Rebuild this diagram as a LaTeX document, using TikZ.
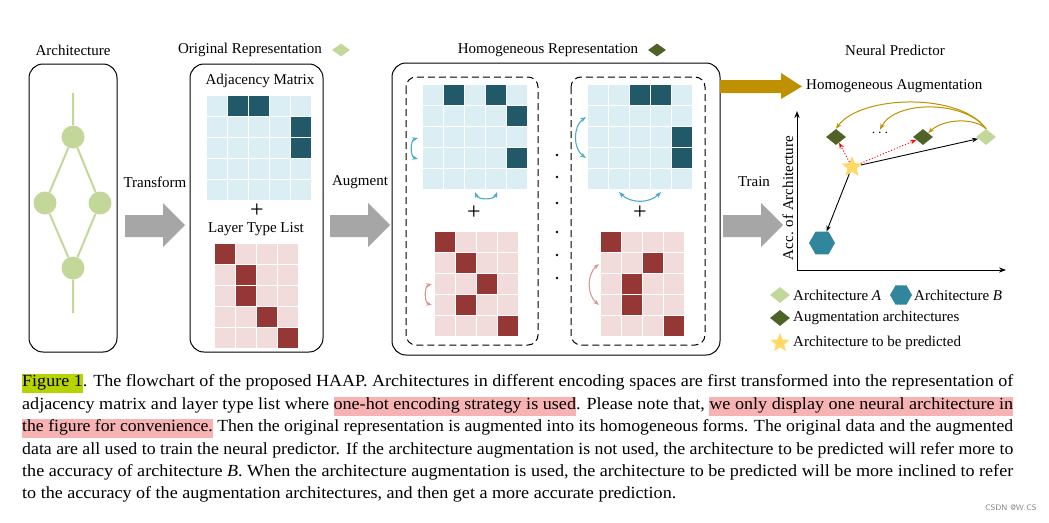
\documentclass[tikz,border=0pt]{standalone}
\usepackage{fontspec}
\setmainfont{Liberation Serif}
\usepackage{graphicx}
\usetikzlibrary{shapes.geometric,arrows.meta}
\definecolor{lblue}{HTML}{DAEEF3}
\definecolor{dteal}{HTML}{215968}
\definecolor{lpink}{HTML}{F2DCDB}
\definecolor{dred}{HTML}{953735}
\definecolor{lgreen}{HTML}{C4D79B}
\definecolor{dgreen}{HTML}{4F6228}
\definecolor{hexb}{HTML}{31859C}
\definecolor{stary}{HTML}{FFD966}
\definecolor{garr}{HTML}{A6A6A6}
\definecolor{gold}{HTML}{BF9000}
\definecolor{arrc}{HTML}{4BACC6}
\definecolor{arrp}{HTML}{DA9694}
\definecolor{hlp}{HTML}{F7B3B3}
\definecolor{hlg}{HTML}{B8D400}
\newcommand\gridmat[6]{% x, y, ncols, nrows, light, dark-cells (r/c, 0-based), dark colour in \dk
  \foreach \rr in {1,...,#4}{\foreach \cc in {1,...,#3}{%
    \fill[#5,draw=white,line width=0.6pt] ({#1+(\cc-1)*21},{#2+(\rr-1)*21}) rectangle ++(21,21);}}
  \foreach \rr/\cc in {#6}{\fill[\dk,draw=white,line width=0.6pt] ({#1+\cc*21},{#2+\rr*21}) rectangle ++(21,21);}}
\newcommand\hlb[2]{{\setlength{\fboxsep}{0pt}\colorbox{#1}{\strut #2}}}
\begin{document}
\begin{tikzpicture}[x=1pt,y=-1pt,
  lbl/.style={font=\fontsize{15}{17}\selectfont,inner sep=0pt},
  box/.style={draw,line width=1pt,rounded corners=14pt},
  dbox/.style={draw,line width=1pt,dash pattern=on 7pt off 4pt,rounded corners=10pt},
  garrow/.style={fill=garr},
  gnode/.style={circle,fill=lgreen,minimum size=23pt,inner sep=0pt},
  gline/.style={lgreen,line width=2pt},
  ldia/.style={diamond,fill=lgreen,minimum width=20pt,minimum height=16pt,inner sep=0pt},
  ddia/.style={diamond,fill=dgreen,minimum width=20pt,minimum height=16pt,inner sep=0pt},
  hexn/.style={regular polygon,regular polygon sides=6,fill=hexb,minimum size=26pt,inner sep=0pt},
  starn/.style={star,star points=5,star point ratio=2.3,fill=stary,minimum size=22pt,inner sep=0pt},
  swapc/.style={<->,>={Stealth[length=6pt]},arrc,line width=1.1pt},
  swapp/.style={<->,>={Stealth[length=6pt]},arrp,line width=1.1pt},
  plusn/.style={font=\fontsize{24}{24}\selectfont,inner sep=0pt}
]
\useasboundingbox (0,0) rectangle (1049,522);
% Architecture
\node[lbl] (tarch) at (73,50) {Architecture};
\draw[box] (29,64) rectangle (117,352);
\node[gnode] (n1) at (73,137) {};
\node[gnode] (n2) at (45,203) {};
\node[gnode] (n3) at (100,203) {};
\node[gnode] (n4) at (73,268) {};
\coordinate (top) at (73,93); \coordinate (bot) at (73,313);
\draw[gline] (top)--(n1) (n1)--(n2) (n1)--(n3) (n2)--(n4) (n3)--(n4) (n4)--(bot);
% gray arrows
\foreach \x/\nm in {125/a1,330/a2,723/a3}{
  \fill[garrow] (\x,215) -- (\x+38,215) -- (\x+38,203) -- (\x+60,225) -- (\x+38,247) -- (\x+38,237) -- (\x,237) -- cycle;}
\node[lbl] (ttr) at (155,182) {Transform};
\node[lbl] (tau) at (360,182) {Augment};
\node[lbl] (ttn) at (754,182) {Train};
% Original representation
\node[lbl] (tor) at (250,50) {Original Representation};
\node[ldia,minimum width=18pt,minimum height=13pt] (dor) at (341,50) {};
\draw[box] (190,64) rectangle (323,352);
\node[lbl] (tadj) at (260,81) {Adjacency Matrix};
\def\dk{dteal}\gridmat{206}{95}{5}{5}{lblue}{0/1,0/2,1/4,2/4}
\node[plusn] (p1) at (257,211) {+};
\node[lbl] (tlt) at (256,229) {Layer Type List};
\def\dk{dred}\gridmat{214}{243}{4}{5}{lpink}{0/0,1/1,2/1,3/2,4/3}
% Homogeneous representation
\node[lbl] (thr) at (548,50) {Homogeneous Representation};
\node[ddia,minimum width=18pt,minimum height=13pt] (dhr) at (657,50) {};
\draw[box] (392,63) rectangle (720,355);
\draw[dbox] (406,77) rectangle (538,345);
\draw[dbox] (571,77) rectangle (705,345);
\def\dk{dteal}\gridmat{422}{84}{5}{5}{lblue}{0/1,0/3,1/4,3/4}
\def\dk{dred}\gridmat{434}{231}{4}{5}{lpink}{0/0,1/1,2/2,3/1,4/3}
\def\dk{dteal}\gridmat{587}{84}{5}{5}{lblue}{0/2,0/3,2/4,3/4}
\def\dk{dred}\gridmat{600}{231}{4}{5}{lpink}{0/0,1/2,2/1,3/1,4/3}
\node[plusn] (p2) at (474,213) {+};
\node[plusn] (p3) at (640,213) {+};
\coordinate (c1a) at (418,138); \coordinate (c1b) at (418,159);
\draw[swapc] (c1a) to[bend right=75] (c1b);
\coordinate (c2a) at (475,192); \coordinate (c2b) at (497,192);
\draw[swapc] (c2a) to[bend right=70] (c2b);
\coordinate (c3a) at (586,117); \coordinate (c3b) at (586,158);
\draw[swapc] (c3a) to[bend right=55] (c3b);
\coordinate (c4a) at (619,192); \coordinate (c4b) at (661,192);
\draw[swapc] (c4a) to[bend right=45] (c4b);
\coordinate (p1a) at (432,284); \coordinate (p1b) at (432,305);
\draw[swapp] (p1a) to[bend right=75] (p1b);
\coordinate (p2a) at (599,264); \coordinate (p2b) at (599,305);
\draw[swapp] (p2a) to[bend right=50] (p2b);
\foreach \yy in {155,177,203,232,255,278}{\fill (557,\yy) circle (1.4pt);}
% Neural predictor
\node[lbl] (tnp) at (895,50) {Neural Predictor};
\fill[gold] (720,80) -- (781,80) -- (781,73) -- (802,86.5) -- (781,99) -- (781,93) -- (720,93) -- cycle;
\node[lbl,anchor=west] (tha) at (806,86) {Homogeneous Augmentation};
\coordinate (org) at (797,270);
\coordinate (yend) at (797,111);
\coordinate (xend) at (1006,270);
\draw[line width=1pt,-{Stealth[length=7pt]}] (org) -- (yend);
\draw[line width=1pt,-{Stealth[length=7pt]}] (org) -- (xend);
\node[lbl,rotate=90] (tacc) at (788,198) {Acc. of Architecture};
\node[ddia] (d1) at (836,137) {};
\node[ddia] (d2) at (923,137) {};
\node[ldia] (la) at (986,137) {};
\node[lbl] (dots) at (880,133) {$\cdots$};
\node[starn] (st) at (852,167) {};
\node[hexn] (hb) at (822,243) {};
\draw[line width=0.9pt,-{Stealth[length=6pt]}] (st) -- (la);
\draw[line width=0.9pt,-{Stealth[length=6pt]}] (st) -- (hb);
\draw[red,line width=1pt,dotted,-{Stealth[length=6pt]}] (st) -- (d1);
\draw[red,line width=1pt,dotted,-{Stealth[length=6pt]}] (st) -- (d2);
\draw[gold,line width=1pt,-{Stealth[length=6pt]}] (la.north) .. controls (960,92) and (860,95) .. (d1.north);
\draw[gold,line width=1pt,-{Stealth[length=6pt]}] (la.north) .. controls (965,100) and (895,100) .. (dots.north);
\draw[gold,line width=1pt,-{Stealth[length=6pt]}] (la.north) .. controls (975,118) and (945,118) .. (d2.north east);
% legend
\node[ldia] (lg1) at (780,295) {};
\node[lbl,anchor=west] (tlg1) at (793,295) {Architecture \textit{A}};
\node[hexn,minimum size=22pt] (lg2) at (901,295) {};
\node[lbl,anchor=west] (tlg2) at (914,295) {Architecture \textit{B}};
\node[ddia] (lg3) at (780,318) {};
\node[lbl,anchor=west] (tlg3) at (793,318) {Augmentation architectures};
\node[starn,minimum size=20pt] (lg4) at (780,343) {};
\node[lbl,anchor=west] (tlg4) at (793,343) {Architecture to be predicted};
% caption
\begin{scope}[every node/.style={anchor=west,inner sep=0pt,font=\fontsize{17}{19}\selectfont}]
\node (l1) at (22,383) {\resizebox{991pt}{\height}{\hlb{hlg}{Figure 1}. The flowchart of the proposed HAAP. Architectures in different encoding spaces are first transformed into the representation of}};
\node (l2) at (22,406) {\resizebox{991pt}{\height}{adjacency matrix and layer type list where \hlb{hlp}{one-hot encoding strategy is used}. Please note that, \hlb{hlp}{we only display one neural architecture in}}};
\node (l3) at (22,428) {\resizebox{991pt}{\height}{\hlb{hlp}{the figure for convenience.} Then the original representation is augmented into its homogeneous forms. The original data and the augmented}};
\node (l4) at (22,450) {\resizebox{991pt}{\height}{data are all used to train the neural predictor. If the architecture augmentation is not used, the architecture to be predicted will refer more to}};
\node (l5) at (22,472) {\resizebox{991pt}{\height}{the accuracy of architecture \textit{B}. When the architecture augmentation is used, the architecture to be predicted will be more inclined to refer}};
\node (l6) at (22,494) {\resizebox{654pt}{\height}{to the accuracy of the augmentation architectures, and then get a more accurate prediction.}};
\end{scope}
\node[font=\fontsize{8}{9}\selectfont\sffamily,text=gray,anchor=east] (wm) at (1040,508) {CSDN @W.CS};
\end{tikzpicture}
\end{document}
